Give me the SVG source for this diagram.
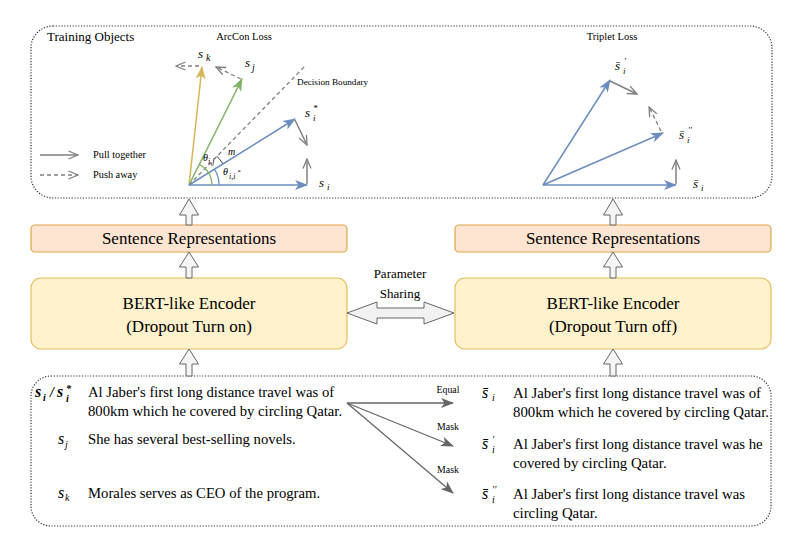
<svg xmlns="http://www.w3.org/2000/svg" width="802" height="544" viewBox="0 0 802 544">
<style>
.t{font-family:"Liberation Serif","Times New Roman",serif;fill:#000}
.m{font-family:"Liberation Serif","Times New Roman",serif;font-style:italic;fill:#000}
.panel{fill:#fff;stroke:#333;stroke-width:1.2;stroke-dasharray:1.2 1.6}
.sr{fill:#fde5d2;stroke:#e0a64a;stroke-width:1.2}
.enc{fill:#fff2cc;stroke:#e3c060;stroke-width:1.2}
.hollow{fill:#f5f5f5;stroke:#666;stroke-width:1}
.vb{stroke:#6c8ebf;stroke-width:1.5;fill:none}
.vg{stroke:#82b366;stroke-width:1.5;fill:none}
.vy{stroke:#d6b656;stroke-width:1.5;fill:none}
.pull{stroke:#808080;stroke-width:1.5;fill:none}
.push{stroke:#808080;stroke-width:1.3;fill:none;stroke-dasharray:4 3}
.dk{stroke:#666;stroke-width:1.3;fill:none}
</style>
<defs>
<marker id="hb" viewBox="0 0 13 10" refX="12" refY="5" markerWidth="13" markerHeight="10" orient="auto" markerUnits="userSpaceOnUse"><path d="M0,0 L13,5 L0,10 L3.5,5 Z" fill="#6c8ebf"/></marker>
<marker id="hgr" viewBox="0 0 13 10" refX="12" refY="5" markerWidth="13" markerHeight="10" orient="auto" markerUnits="userSpaceOnUse"><path d="M0,0 L13,5 L0,10 L3.5,5 Z" fill="#82b366"/></marker>
<marker id="hy" viewBox="0 0 13 10" refX="12" refY="5" markerWidth="13" markerHeight="10" orient="auto" markerUnits="userSpaceOnUse"><path d="M0,0 L13,5 L0,10 L3.5,5 Z" fill="#d6b656"/></marker>
<marker id="hg" viewBox="0 0 11 10" refX="10" refY="5" markerWidth="11" markerHeight="10" orient="auto" markerUnits="userSpaceOnUse"><path d="M0.5,1 L10,5 L0.5,9" fill="none" stroke="#808080" stroke-width="1.3"/></marker>
<marker id="hd" viewBox="0 0 13 10" refX="12" refY="5" markerWidth="13" markerHeight="10" orient="auto" markerUnits="userSpaceOnUse"><path d="M0,0 L13,5 L0,10 L3.5,5 Z" fill="#666"/></marker>
</defs>

<g id="training-objects">
<rect class="panel" x="31" y="26" width="741" height="172" rx="22"/>
<text class="t" x="47" y="41" font-size="13">Training Objects</text>
</g>

<g id="arccon-loss">
<text class="t" x="244" y="40" font-size="10.5" text-anchor="middle">ArcCon Loss</text>
<line class="push" x1="189" y1="185" x2="306" y2="65"/>
<text class="t" x="297" y="85" font-size="9.2">Decision Boundary</text>
<line class="vy" x1="189" y1="185" x2="202" y2="67" marker-end="url(#hy)"/>
<line class="vg" x1="189" y1="185" x2="242" y2="79" marker-end="url(#hgr)"/>
<line class="vb" x1="189" y1="185" x2="295" y2="119" marker-end="url(#hb)"/>
<line class="vb" x1="189" y1="185" x2="307" y2="185" marker-end="url(#hb)"/>
<line class="push" x1="199" y1="66" x2="176" y2="66" marker-end="url(#hg)"/>
<line class="push" x1="241" y1="79" x2="216" y2="67" marker-end="url(#hg)"/>
<line class="pull" x1="295" y1="120" x2="307" y2="145" marker-end="url(#hg)"/>
<line class="pull" x1="307" y1="184" x2="307" y2="159" marker-end="url(#hg)"/>
<path d="M219,185 A30,30 0 0 0 214.4,169" fill="none" stroke="#6c8ebf" stroke-width="1.3"/>
<path d="M212,185 A23,23 0 0 0 199.1,164.3" fill="none" stroke="#82b366" stroke-width="1.3"/>
<path d="M222.8,163.6 A40,40 0 0 0 216.8,156.2" fill="none" stroke="#333" stroke-width="1"/>
<text class="m" x="203" y="161" font-size="10">θ<tspan x="208" y="164" font-size="8">i,j</tspan></text>
<text class="m" x="223" y="175" font-size="10">θ<tspan x="229" y="179" font-size="8">i,i</tspan><tspan x="237" y="174" font-size="7">*</tspan></text>
<text class="m" x="228" y="155" font-size="10">m</text>
<text class="m" x="198" y="58" font-size="13">s<tspan x="206" y="61" font-size="10">k</tspan></text>
<text class="m" x="245" y="67" font-size="13">s<tspan x="252" y="71" font-size="10">j</tspan></text>
<text class="m" x="305" y="117" font-size="13">s<tspan x="313" y="111" font-size="9">*</tspan><tspan x="313" y="121" font-size="9">i</tspan></text>
<text class="m" x="319" y="187" font-size="13">s<tspan x="327" y="190" font-size="9">i</tspan></text>
</g>

<g id="legend">
<line class="pull" x1="40" y1="155" x2="78" y2="155" marker-end="url(#hg)"/>
<text class="t" x="93" y="158" font-size="10.3">Pull together</text>
<line class="push" x1="40" y1="175" x2="78" y2="175" marker-end="url(#hg)"/>
<text class="t" x="93" y="178" font-size="10.3">Push away</text>
</g>

<g id="triplet-loss">
<text class="t" x="612" y="40" font-size="10.5" text-anchor="middle">Triplet Loss</text>
<line class="vb" x1="543" y1="185" x2="610" y2="80" marker-end="url(#hb)"/>
<line class="vb" x1="543" y1="185" x2="663" y2="133" marker-end="url(#hb)"/>
<line class="vb" x1="543" y1="185" x2="676" y2="185" marker-end="url(#hb)"/>
<line class="pull" x1="610" y1="81" x2="637" y2="94" marker-end="url(#hg)"/>
<line class="push" x1="661" y1="131" x2="649" y2="107" marker-end="url(#hg)"/>
<line class="pull" x1="676" y1="184" x2="676" y2="160" marker-end="url(#hg)"/>
<text class="m" x="615" y="70" font-size="13">s̄<tspan x="624" y="64" font-size="9">′</tspan><tspan x="623" y="74" font-size="9">i</tspan></text>
<text class="m" x="679" y="139" font-size="13">s̄<tspan x="688" y="133" font-size="9">′′</tspan><tspan x="687" y="143" font-size="9">i</tspan></text>
<text class="m" x="693" y="188" font-size="13">s̄<tspan x="701" y="191" font-size="9">i</tspan></text>
</g>

<g id="sr-left">
<rect class="sr" x="31" y="225" width="316" height="27" rx="4"/>
<text class="t" x="189" y="244" font-size="17" text-anchor="middle">Sentence Representations</text>
</g>
<g id="sr-right">
<rect class="sr" x="455" y="225" width="316" height="27" rx="4"/>
<text class="t" x="613" y="244" font-size="17" text-anchor="middle">Sentence Representations</text>
</g>

<g id="encoder-left">
<rect class="enc" x="31" y="278" width="316" height="71" rx="10"/>
<text class="t" x="189" y="309" font-size="17" text-anchor="middle">BERT-like Encoder</text>
<text class="t" x="189" y="332" font-size="17" text-anchor="middle">(Dropout Turn on)</text>
</g>
<g id="encoder-right">
<rect class="enc" x="455" y="278" width="316" height="71" rx="10"/>
<text class="t" x="613" y="309" font-size="17" text-anchor="middle">BERT-like Encoder</text>
<text class="t" x="613" y="332" font-size="17" text-anchor="middle">(Dropout Turn off)</text>
</g>

<g id="inputs-left">
<rect class="panel" x="31" y="376" width="740" height="150" rx="20"/>
<text class="m" font-size="16" font-weight="bold"><tspan x="35" y="397">s</tspan><tspan x="43" y="401" font-size="10">i</tspan><tspan x="50" y="397" font-size="14">/</tspan><tspan x="57" y="397">s</tspan><tspan x="66" y="392" font-size="10">*</tspan><tspan x="66" y="402" font-size="10">i</tspan></text>
<text class="t" font-size="14.7"><tspan x="88" y="397">Al Jaber's first long distance travel was of</tspan><tspan x="88" y="416">800km which he covered by circling Qatar.</tspan></text>
<text class="m" font-size="16"><tspan x="58" y="444">s</tspan><tspan x="65" y="448" font-size="10">j</tspan></text>
<text class="t" x="88" y="444" font-size="14.7">She has several best-selling novels.</text>
<text class="m" font-size="16"><tspan x="58" y="498">s</tspan><tspan x="65" y="501" font-size="10">k</tspan></text>
<text class="t" x="88" y="498" font-size="14.7">Morales serves as CEO of the program.</text>
</g>

<g id="inputs-right">
<text class="m" font-size="16"><tspan x="482" y="398">s̄</tspan><tspan x="492" y="401" font-size="10">i</tspan></text>
<text class="t" font-size="14.8"><tspan x="513" y="398">Al Jaber's first long distance travel was of</tspan><tspan x="513" y="417">800km which he covered by circling Qatar.</tspan></text>
<text class="m" font-size="16"><tspan x="482" y="449">s̄</tspan><tspan x="492" y="443" font-size="10">′</tspan><tspan x="492" y="453" font-size="10">i</tspan></text>
<text class="t" font-size="14.8"><tspan x="513" y="449">Al Jaber's first long distance travel was he</tspan><tspan x="513" y="468">covered by circling Qatar.</tspan></text>
<text class="m" font-size="16"><tspan x="482" y="499">s̄</tspan><tspan x="492" y="493" font-size="10">′′</tspan><tspan x="492" y="503" font-size="10">i</tspan></text>
<text class="t" font-size="14.8"><tspan x="513" y="499">Al Jaber's first long distance travel was</tspan><tspan x="513" y="518">circling Qatar.</tspan></text>
</g>

<g id="connectors">
<path class="hollow" d="M189,199 L198.5,215 L192,215 L192,225 L186,225 L186,215 L179.5,215 Z"/>
<path class="hollow" d="M189,252 L198.5,267 L192,267 L192,278 L186,278 L186,267 L179.5,267 Z"/>
<path class="hollow" d="M189,349 L198.5,364 L192,364 L192,376 L186,376 L186,364 L179.5,364 Z"/>
<path class="hollow" d="M613,199 L622.5,215 L616,215 L616,225 L610,225 L610,215 L603.5,215 Z"/>
<path class="hollow" d="M613,252 L622.5,267 L616,267 L616,278 L610,278 L610,267 L603.5,267 Z"/>
<path class="hollow" d="M613,349 L622.5,364 L616,364 L616,376 L610,376 L610,364 L603.5,364 Z"/>
<path d="M347,313 L377,302 L377,308 L424,308 L424,302 L454,313 L424,324 L424,318 L377,318 L377,324 Z" fill="#f2f2f2" stroke="#666" stroke-width="1"/>
<text class="t" x="400" y="278" font-size="13" text-anchor="middle">Parameter</text>
<text class="t" x="400" y="298" font-size="13" text-anchor="middle">Sharing</text>
<line class="dk" x1="347" y1="403" x2="453" y2="403" marker-end="url(#hd)"/>
<line class="dk" x1="347" y1="403" x2="453" y2="446" marker-end="url(#hd)"/>
<line class="dk" x1="347" y1="403" x2="453" y2="493" marker-end="url(#hd)"/>
<text class="t" x="448" y="393" font-size="9.8" text-anchor="middle">Equal</text>
<text class="t" x="448" y="430" font-size="9.8" text-anchor="middle">Mask</text>
<text class="t" x="448" y="473" font-size="9.8" text-anchor="middle">Mask</text>
</g>
</svg>
